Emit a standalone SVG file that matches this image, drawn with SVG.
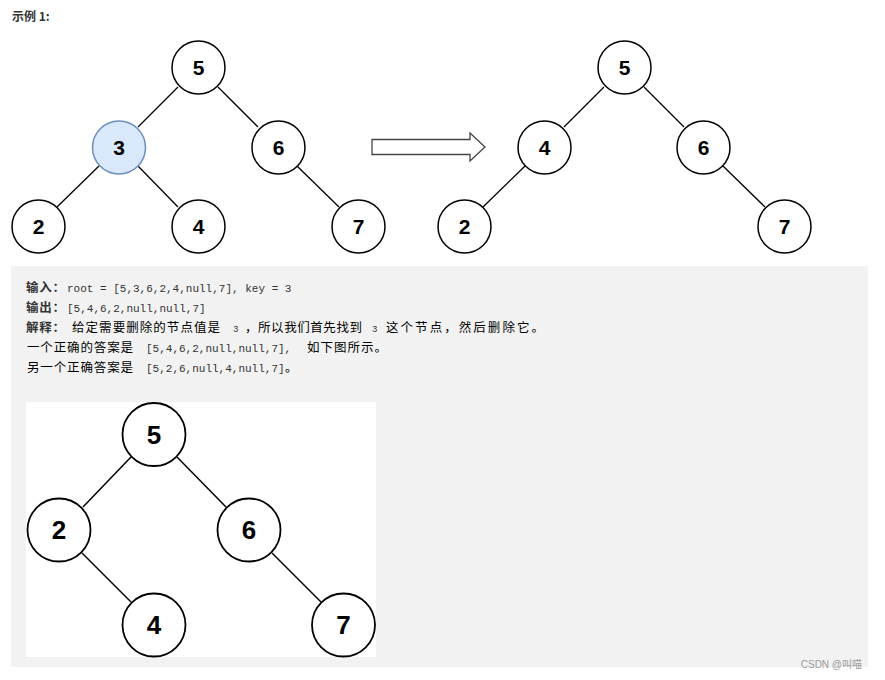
<svg xmlns="http://www.w3.org/2000/svg" width="885" height="680" viewBox="0 0 885 680">
<style>
.n circle{fill:#fff;stroke:#000;stroke-width:1.5}
.n text{font-family:"Liberation Sans",Arial,sans-serif;font-weight:bold;font-size:21px;text-anchor:middle;dominant-baseline:central;fill:#000}
.b circle{stroke-width:1.8}
.b text{font-size:26px}
.e line{stroke:#000;stroke-width:1.3}
.t{font-family:"Noto Sans CJK SC","Liberation Sans",sans-serif;font-size:12.5px;fill:#000}
.m{font-family:"Liberation Mono","DejaVu Sans Mono",monospace;font-size:11px;fill:#333}
.h{font-weight:bold;fill:#333}
</style>
<rect width="885" height="680" fill="#fff"/>
<text x="12" y="21" class="t h" style="font-size:12px">示例 1:</text>

<g id="edges-top-left" class="e">
<line x1="178" y1="87" x2="138" y2="127"/>
<line x1="218" y1="87" x2="258" y2="127"/>
<line x1="99" y1="166" x2="57" y2="207"/>
<line x1="138" y1="166" x2="178" y2="207"/>
<line x1="297" y1="166" x2="339" y2="207"/>
</g>
<g id="tl-5" class="n"><circle cx="198.5" cy="67.5" r="26.5"/><text x="198.5" y="67.5">5</text></g>
<g id="tl-3" class="n"><circle cx="119" cy="147.5" r="26.5" style="fill:#dae8fc;stroke:#6c8ebf"/><text x="119" y="147.5">3</text></g>
<g id="tl-6" class="n"><circle cx="278.5" cy="147.5" r="26.5"/><text x="278.5" y="147.5">6</text></g>
<g id="tl-2" class="n"><circle cx="38.5" cy="226.5" r="26.5"/><text x="38.5" y="226.5">2</text></g>
<g id="tl-4" class="n"><circle cx="198.5" cy="226.5" r="26.5"/><text x="198.5" y="226.5">4</text></g>
<g id="tl-7" class="n"><circle cx="358.5" cy="226.5" r="26.5"/><text x="358.5" y="226.5">7</text></g>

<g id="arrow"><path d="M372 139.5 H470 V133 L485 147 L470 161 V154.5 H372 Z" fill="#fff" stroke="#444" stroke-width="1.3"/></g>

<g id="edges-top-right" class="e">
<line x1="604" y1="87" x2="564" y2="127"/>
<line x1="644" y1="87" x2="684" y2="127"/>
<line x1="525" y1="166" x2="483" y2="207"/>
<line x1="723" y1="166" x2="765" y2="207"/>
</g>
<g id="tr-5" class="n"><circle cx="624.5" cy="67.5" r="26.5"/><text x="624.5" y="67.5">5</text></g>
<g id="tr-4" class="n"><circle cx="544.5" cy="147.5" r="26.5"/><text x="544.5" y="147.5">4</text></g>
<g id="tr-6" class="n"><circle cx="703.5" cy="147.5" r="26.5"/><text x="703.5" y="147.5">6</text></g>
<g id="tr-2" class="n"><circle cx="464.5" cy="226.5" r="26.5"/><text x="464.5" y="226.5">2</text></g>
<g id="tr-7" class="n"><circle cx="784.5" cy="226.5" r="26.5"/><text x="784.5" y="226.5">7</text></g>

<rect x="11" y="266" width="857" height="401" fill="#f2f2f2"/>
<g id="text-block">
<text x="26" y="292" class="t h" textLength="39" lengthAdjust="spacing">输入：</text>
<text x="67" y="292" class="m">root = [5,3,6,2,4,null,7], key = 3</text>
<text x="26" y="312" class="t h" textLength="39" lengthAdjust="spacing">输出：</text>
<text x="67" y="312" class="m">[5,4,6,2,null,null,7]</text>
<text x="26" y="332" class="t h" textLength="39" lengthAdjust="spacing">解释：</text>
<text x="72" y="332" class="t" textLength="148" lengthAdjust="spacing">给定需要删除的节点值是</text>
<text x="233" y="332" class="m" style="font-size:9px">3</text>
<text x="245" y="332" class="t" textLength="117" lengthAdjust="spacing">，所以我们首先找到</text>
<text x="372" y="332" class="m" style="font-size:9px">3</text>
<text x="386" y="332" class="t" textLength="158" lengthAdjust="spacing">这个节点，然后删除它。</text>
<text x="27" y="352" class="t" textLength="106" lengthAdjust="spacing">一个正确的答案是</text>
<text x="146" y="352" class="m">[5,4,6,2,null,null,7],</text>
<text x="307" y="352" class="t" textLength="80" lengthAdjust="spacing">如下图所示。</text>
<text x="27" y="372" class="t" textLength="106" lengthAdjust="spacing">另一个正确答案是</text>
<text x="146" y="372" class="m">[5,2,6,null,4,null,7]</text>
<text x="285" y="372" class="t">。</text>
</g>

<rect x="26" y="402" width="350" height="255" fill="#fff"/>
<g id="edges-bottom" class="e">
<line x1="131" y1="457" x2="83" y2="507" style="stroke-width:1.5"/>
<line x1="177" y1="457" x2="226" y2="507" style="stroke-width:1.5"/>
<line x1="82" y1="553" x2="131" y2="602" style="stroke-width:1.5"/>
<line x1="272" y1="553" x2="321" y2="602" style="stroke-width:1.5"/>
</g>
<g id="b-5" class="n b"><circle cx="154" cy="434.5" r="31.5"/><text x="154" y="434.5">5</text></g>
<g id="b-2" class="n b"><circle cx="59" cy="530" r="31.5"/><text x="59" y="530">2</text></g>
<g id="b-6" class="n b"><circle cx="249" cy="530" r="31.5"/><text x="249" y="530">6</text></g>
<g id="b-4" class="n b"><circle cx="154" cy="625" r="31.5"/><text x="154" y="625">4</text></g>
<g id="b-7" class="n b"><circle cx="343.5" cy="625" r="31.5"/><text x="343.5" y="625">7</text></g>

<text x="862" y="668" text-anchor="end" style="font-family:'Liberation Sans','Noto Sans CJK SC',sans-serif;font-size:10px;fill:#999">CSDN @叫喵</text>
</svg>
